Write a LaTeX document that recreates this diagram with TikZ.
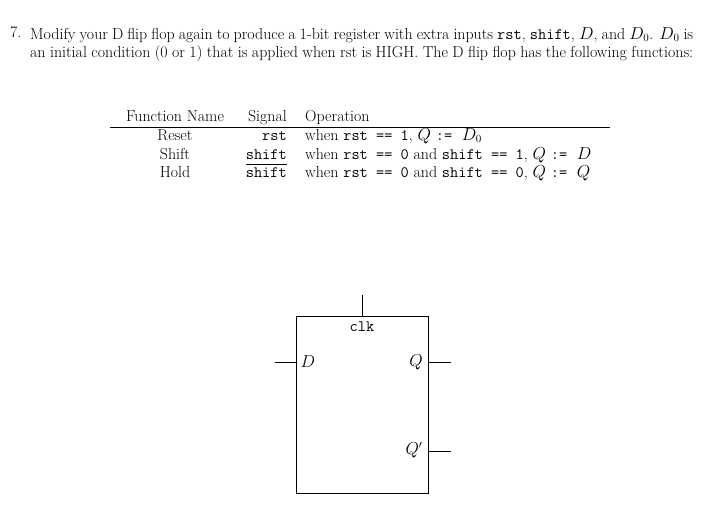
\documentclass[tikz,border=0pt]{standalone}
\usepackage{amsmath}
\usepackage{fontspec}
\begin{document}
\begin{tikzpicture}[x=1pt,y=-1pt,
  txt/.style={inner sep=0pt,font=\fontsize{15.9}{18.5}\selectfont},
  wire/.style={line width=0.8pt}]
\useasboundingbox (0,0) rectangle (716,509);
\node[txt,anchor=north west] (num) at (10,27) {7.};
\node[txt,anchor=north west,text width=663pt,align=justify] (para) at (30,27)
 {Modify your D flip flop again to produce a 1-bit register with extra inputs \texttt{rst}, \texttt{shift}, $D$, and $D_0$. $D_0$ is an initial condition (0 or 1) that is applied when rst is HIGH. The D flip flop has the following functions:};
% table
\node[txt,anchor=base] (h1) at (175,121) {Function Name};
\node[txt,anchor=base east] (h2) at (287,121) {Signal};
\node[txt,anchor=base west] (h3) at (305,121) {Operation};
\draw[line width=0.6pt] (110,127) -- (610,127);
\node[txt,anchor=base] (r1) at (175,140) {Reset};
\node[txt,anchor=base] (r2) at (175,159) {Shift};
\node[txt,anchor=base] (r3) at (175,177) {Hold};
\node[txt,anchor=base east] (s1) at (287,140) {\texttt{rst}};
\node[txt,anchor=base east] (s2) at (287,159) {\texttt{shift}};
\node[txt,anchor=base east] (s3) at (287,177) {$\overline{\texttt{shift}}$};
\node[txt,anchor=base west] (o1) at (305,140) {when \texttt{rst == 1}, $Q$ \texttt{:=} \ $D_0$};
\node[txt,anchor=base west] (o2) at (305,159) {when \texttt{rst == 0} and \texttt{shift == 1}, $Q$ \texttt{:=} \ $D$};
\node[txt,anchor=base west] (o3) at (305,177) {when \texttt{rst == 0} and \texttt{shift == 0}, $Q$ \texttt{:=} \ $Q$};
% flip flop
\node[draw,wire,minimum width=132pt,minimum height=177pt,inner sep=0pt] (ff) at (362,404.5) {};
\coordinate (clkin) at (362,295);
\coordinate (din) at (275,362);
\coordinate (qout) at (451,362);
\coordinate (qbout) at (451,451);
\draw[wire] (clkin) -- (clkin |- ff.north);
\draw[wire] (din) -- (din -| ff.west);
\draw[wire] (qout -| ff.east) -- (qout);
\draw[wire] (qbout -| ff.east) -- (qbout);
\node[txt] (lclk) at (362,327) {\texttt{clk}};
\node[txt] (ld) at (308,362) {$D$};
\node[txt] (lq) at (416,362) {$Q$};
\node[txt] (lqb) at (414,450) {$Q'$};
\end{tikzpicture}
\end{document}
